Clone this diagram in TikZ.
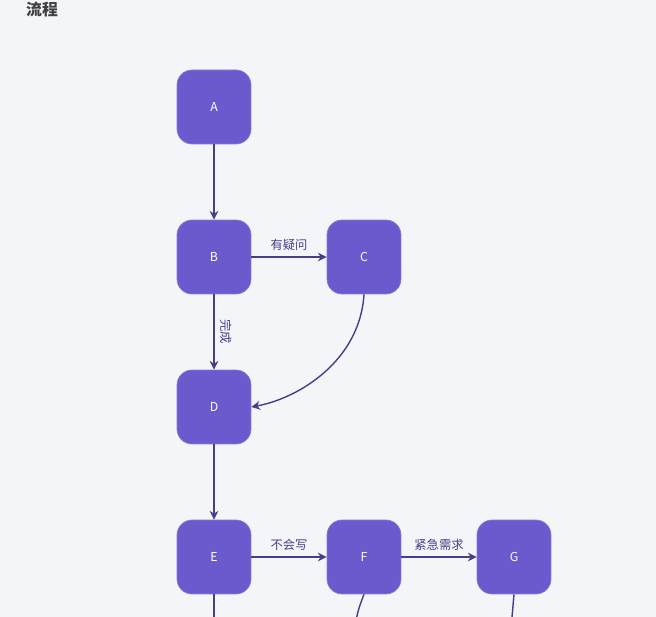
\documentclass[tikz,border=0pt]{standalone}
\usepackage{fontspec}
\setmainfont{Noto Sans CJK SC}
\usetikzlibrary{positioning,arrows.meta}
\definecolor{bgcol}{HTML}{F4F5F9}
\definecolor{stepcol}{HTML}{6A5ACD}
\definecolor{linecol}{HTML}{483D8B}
\tikzset{stepbox/.style={draw=stepcol!80,fill=stepcol,rounded corners=0.3cm,minimum size=1.48cm,text=white,font=\scriptsize},
         flow/.style={linecol,thick,-{Stealth[length=5pt,width=5pt]}},
         flowlabel/.style={font=\scriptsize,text=linecol}}

\begin{document}
\begin{tikzpicture}[x=0.02cm,y=-0.02cm]
\fill[bgcol] (0,0) rectangle (656,617);
\useasboundingbox (0,0) rectangle (656,617);
\clip (0,0) rectangle (656,617);

\node[font=\small\bfseries,text=black!75] (title) at (42,9) {流程};

\node[stepbox] (A) at (214,107) {A};
\node[stepbox] (B) at (214,257) {B};
\node[stepbox] (C) at (364,257) {C};
\node[stepbox] (D) at (214,407) {D};
\node[stepbox] (E) at (214,557) {E};
\node[stepbox] (F) at (364,557) {F};
\node[stepbox] (G) at (514,557) {G};

\coordinate (Eout) at (214,640);
\coordinate (Fout) at (352,640);
\coordinate (Gout) at (510,640);

\draw[flow] (A) -- (B);
\draw[flow] (B) -- node[flowlabel,above] {有疑问} (C);
\draw[flow] (B) -- node[flowlabel,rotate=-90,above] {完成} (D);
\draw[flow] (C.south) .. controls (360,360) and (300,398) .. (D.east);
\draw[flow] (D) -- (E);
\draw[flow] (E) -- node[flowlabel,above] {不会写} (F);
\draw[flow] (F) -- node[flowlabel,above] {紧急需求} (G);

\draw[linecol,thick] (E.south) -- (Eout);
\draw[linecol,thick] (F.south) .. controls (358,610) .. (Fout);
\draw[linecol,thick] (G.south) -- (Gout);
\end{tikzpicture}
\end{document}
